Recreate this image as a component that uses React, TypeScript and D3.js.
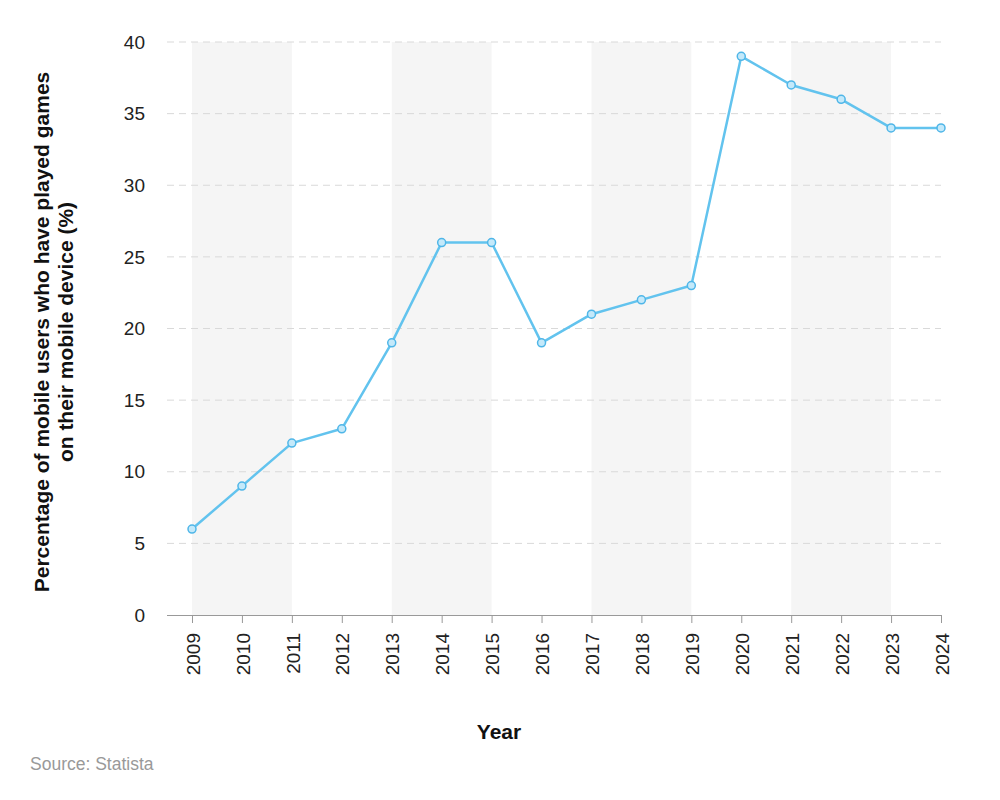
import * as d3 from "d3";
import { useEffect, useRef } from "react";

const years = ["2009", "2010", "2011", "2012", "2013", "2014", "2015", "2016", "2017", "2018", "2019", "2020", "2021", "2022", "2023", "2024"];
const shares = [6, 9, 12, 13, 19, 26, 26, 19, 21, 22, 23, 39, 37, 36, 34, 34];
const yTicks = [0, 5, 10, 15, 20, 25, 30, 35, 40];

const FONT = "'Liberation Sans', Arial, Helvetica, sans-serif";

export default function App() {
    const svgRef = useRef<SVGSVGElement>(null);

    useEffect(() => {
        if (!svgRef.current) return;
        const svg = d3.select(svgRef.current);
        svg.selectAll("*").remove();

        const axisLeftX = 167;
        const scaleX = d3.scalePoint<string>().domain(years).range([192, 941]);
        const scaleY = d3.scaleLinear().domain([0, 40]).range([615, 42]);
        const step = scaleX.step();

        // Shaded bands behind alternating year pairs
        const bandStarts = years.filter((_, i) => i % 4 === 0 && i + 2 < years.length);
        svg.append("g")
            .selectAll("rect")
            .data(bandStarts)
            .join("rect")
            .attr("x", (d) => scaleX(d)!)
            .attr("y", scaleY(40))
            .attr("width", step * 2)
            .attr("height", scaleY(0) - scaleY(40))
            .attr("fill", "#f5f5f5");

        // Horizontal grid lines
        svg.append("g")
            .selectAll("line")
            .data(yTicks.filter((t) => t > 0))
            .join("line")
            .attr("x1", axisLeftX)
            .attr("x2", 941)
            .attr("y1", (d) => scaleY(d))
            .attr("y2", (d) => scaleY(d))
            .attr("stroke", "#d9d9d9")
            .attr("stroke-width", 1)
            .attr("stroke-dasharray", "7,5");

        // Y tick labels
        svg.append("g")
            .selectAll("text")
            .data(yTicks)
            .join("text")
            .attr("x", 145)
            .attr("y", (d) => scaleY(d))
            .attr("dy", "0.35em")
            .attr("text-anchor", "end")
            .attr("font-family", FONT)
            .attr("font-size", 19)
            .attr("fill", "#222")
            .text((d) => `${d}`);

        // X axis line and ticks
        const xAxis = svg.append("g");
        xAxis.append("line")
            .attr("x1", axisLeftX)
            .attr("x2", 941)
            .attr("y1", 615.5)
            .attr("y2", 615.5)
            .attr("stroke", "#999")
            .attr("stroke-width", 1);
        xAxis.selectAll("line.tick")
            .data(years)
            .join("line")
            .classed("tick", true)
            .attr("x1", (d) => scaleX(d)! + 0.5)
            .attr("x2", (d) => scaleX(d)! + 0.5)
            .attr("y1", 615)
            .attr("y2", 623)
            .attr("stroke", "#999");
        xAxis.selectAll("text")
            .data(years)
            .join("text")
            .attr("transform", (d) => `translate(${scaleX(d)! + 1},${633}) rotate(-90)`)
            .attr("dy", "0.35em")
            .attr("text-anchor", "end")
            .attr("font-family", FONT)
            .attr("font-size", 19)
            .attr("fill", "#222")
            .text((d) => d);

        // Line
        const line = d3
            .line<number>()
            .x((_, i) => scaleX(years[i])!)
            .y((d) => scaleY(d));
        svg.append("path")
            .datum(shares)
            .attr("fill", "none")
            .attr("stroke", "#62c3ee")
            .attr("stroke-width", 2.5)
            .attr("stroke-linejoin", "round")
            .attr("d", line);

        svg.append("g")
            .selectAll("circle")
            .data(shares)
            .join("circle")
            .attr("cx", (_, i) => scaleX(years[i])!)
            .attr("cy", (d) => scaleY(d))
            .attr("r", 4)
            .attr("fill", "#c4e9fa")
            .attr("stroke", "#4fb6e8")
            .attr("stroke-width", 1.5);

        // Axis titles
        const yTitle = svg.append("text")
            .attr("transform", "translate(52,332) rotate(-90)")
            .attr("text-anchor", "middle")
            .attr("font-family", FONT)
            .attr("font-size", 21)
            .attr("font-weight", "bold")
            .attr("fill", "#111");
        yTitle.append("tspan").attr("x", 0).attr("dy", "-0.15em").text("Percentage of mobile users who have played games");
        yTitle.append("tspan").attr("x", 0).attr("dy", "1.15em").text("on their mobile device (%)");

        svg.append("text")
            .attr("x", 499)
            .attr("y", 739)
            .attr("text-anchor", "middle")
            .attr("font-family", FONT)
            .attr("font-size", 21)
            .attr("font-weight", "bold")
            .attr("fill", "#111")
            .text("Year");

        svg.append("text")
            .attr("x", 30)
            .attr("y", 770)
            .attr("font-family", FONT)
            .attr("font-size", 17.5)
            .attr("fill", "#999")
            .text("Source: Statista");
    }, []);

    return (
        <svg
            ref={svgRef}
            width={1000}
            height={800}
            style={{ position: "absolute", left: 0, top: 0, background: "#fff" }}
        />
    );
}
